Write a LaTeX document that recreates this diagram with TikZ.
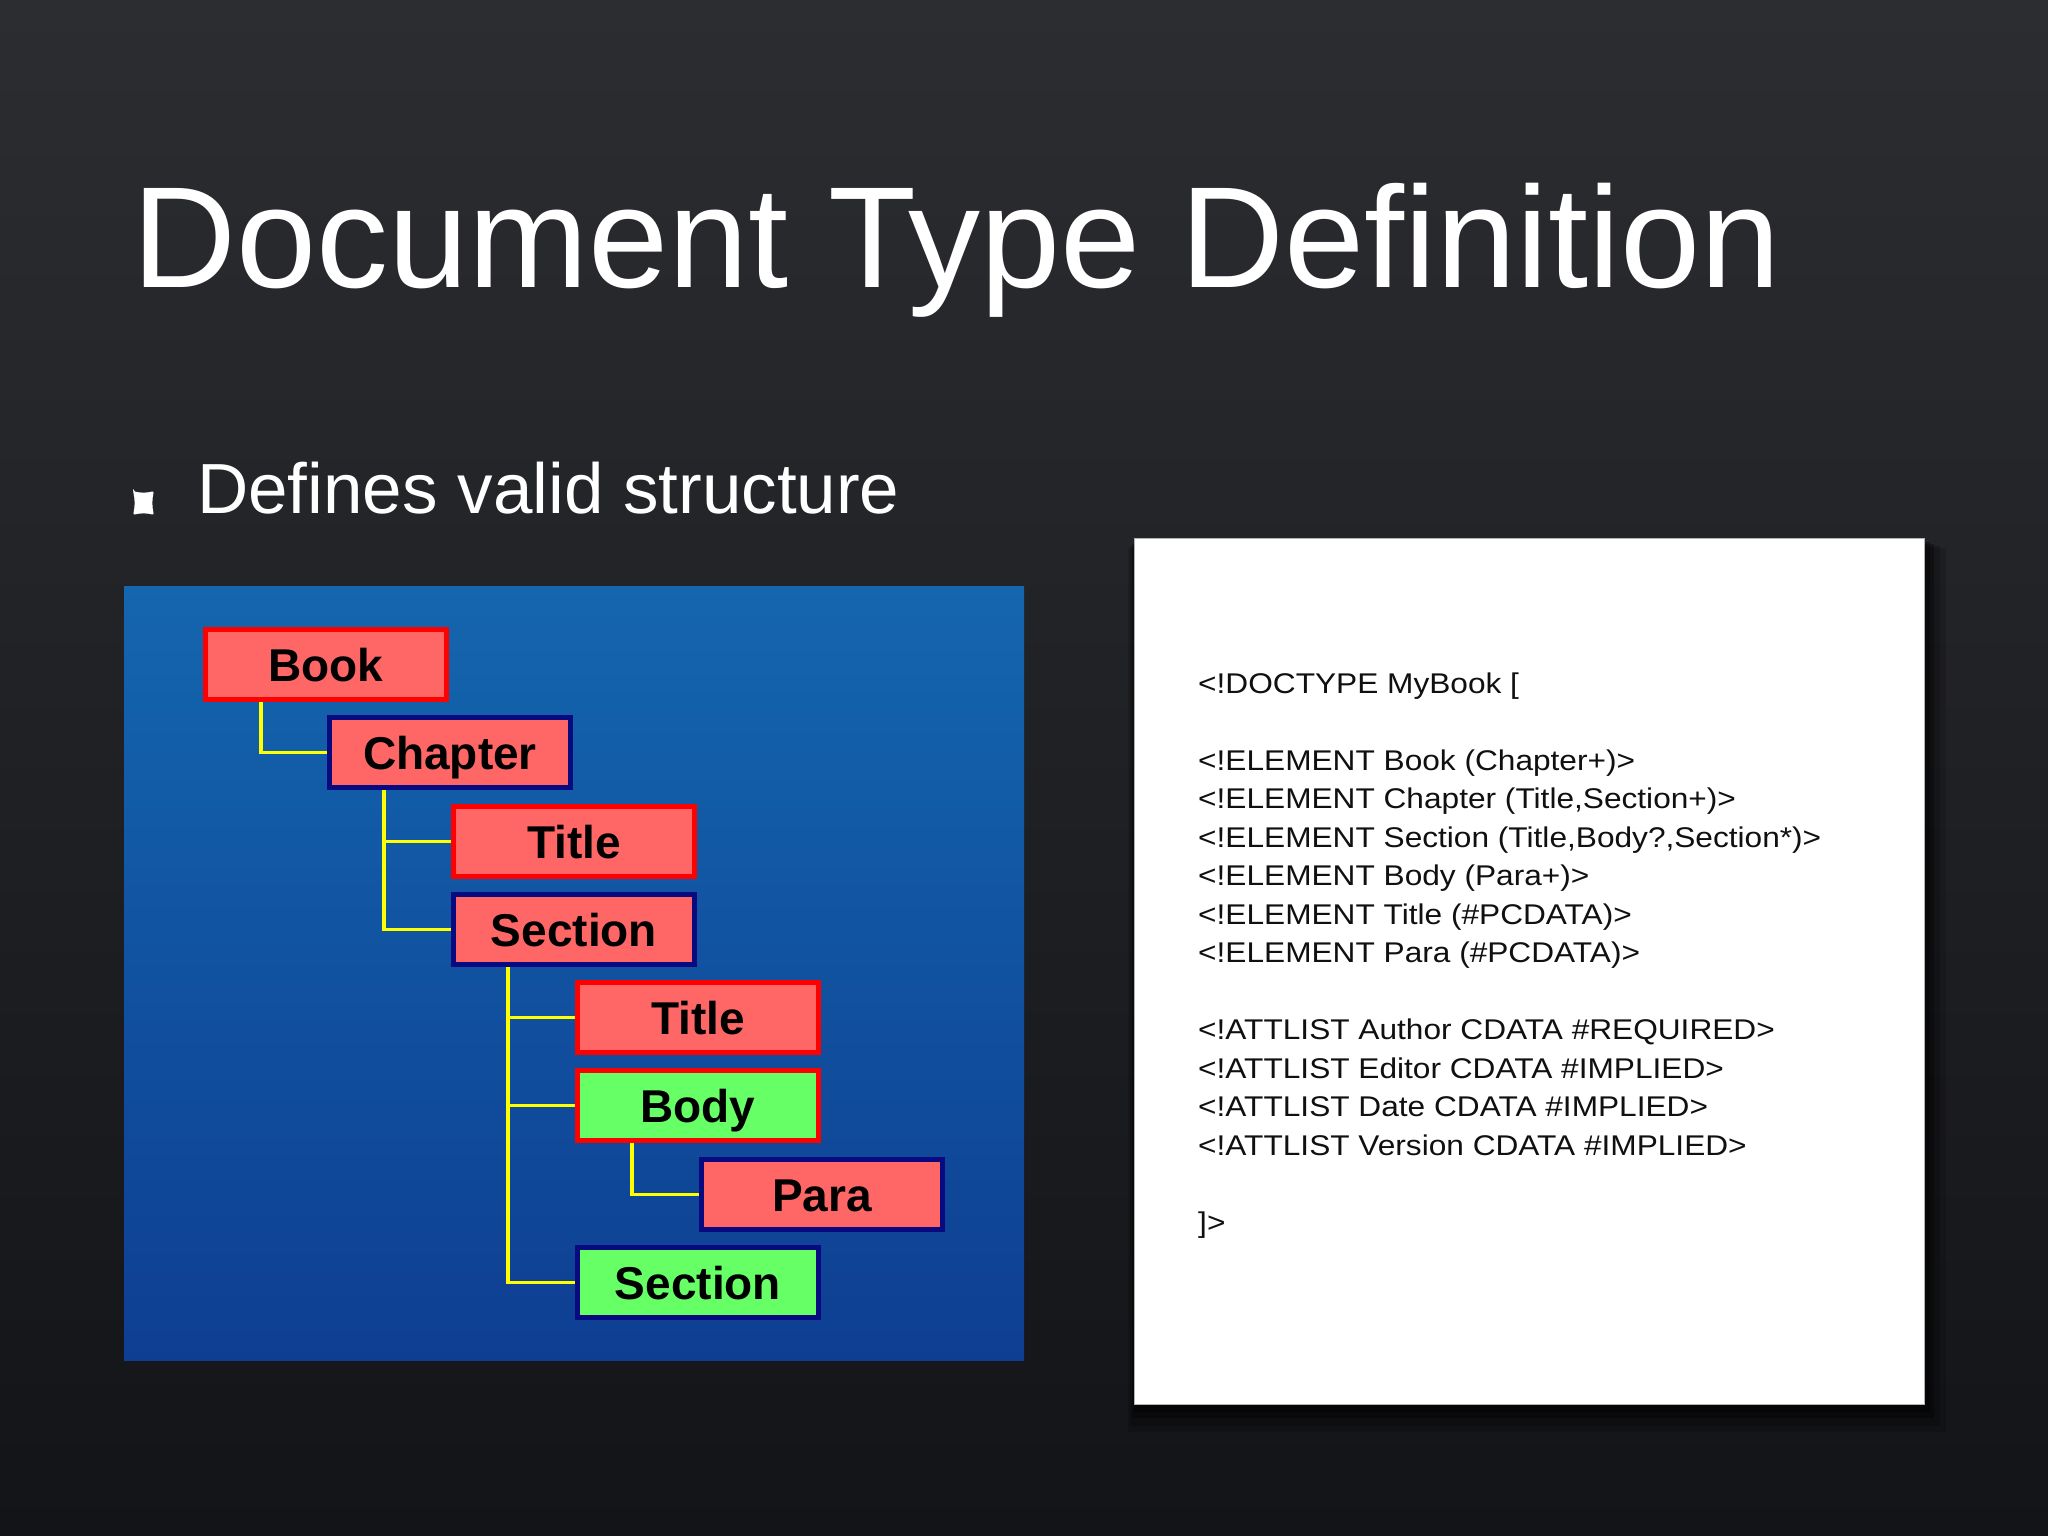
\documentclass[tikz,border=0pt]{standalone}
\usepackage{fontspec}
\setmainfont{Liberation Sans}
\newfontfamily\codefont[FakeStretch=1.11]{Liberation Sans}
\usetikzlibrary{calc}
\definecolor{salmon}{HTML}{FF6666}
\definecolor{lgreen}{HTML}{66FF66}
\definecolor{navyc}{HTML}{0A0A80}
\definecolor{bordred}{HTML}{FF0000}
\definecolor{conny}{HTML}{FFFF00}
\definecolor{bgtop}{HTML}{2C2D31}
\definecolor{bgbot}{HTML}{131417}
\definecolor{paneltop}{HTML}{1466AE}
\definecolor{panelbot}{HTML}{0E3E92}
\definecolor{codec}{HTML}{101010}
\tikzset{
  treebox/.style={draw, line width=5pt, minimum width=241pt, minimum height=70pt,
    inner sep=0pt, text height=33pt, text depth=0pt, anchor=north west,
    font=\fontsize{46}{50}\selectfont\bfseries, text=black},
  rednode/.style={treebox, draw=bordred, fill=salmon},
  navynode/.style={treebox, draw=navyc, fill=salmon},
  redgreen/.style={treebox, draw=bordred, fill=lgreen},
  navygreen/.style={treebox, draw=navyc, fill=lgreen},
  conn/.style={draw=conny, line width=3.5pt},
  codeline/.style={anchor=base west, inner sep=0pt, text=codec,
    font=\codefont\fontsize{28.5}{34}\selectfont}
}
\begin{document}
\begin{tikzpicture}[x=1pt,y=-1pt]
\useasboundingbox (0,0) rectangle (2048,1536);
% background
\shade[top color=bgtop, bottom color=bgbot] (0,0) rectangle (2048,1536);
% title
\node[anchor=base west, inner sep=0pt, text=white, font=\fontsize{144}{150}\selectfont] (title) at (132,287) {Document Type Definition};
% bullet
\fill[white, rounded corners=2pt] (133,491) .. controls (140,493) and (147,493) .. (154,491) .. controls (152,499) and (152,507) .. (154,515) .. controls (147,513) and (140,513) .. (133,515) .. controls (135,507) and (135,499) .. (133,491) -- cycle;
\node[anchor=base west, inner sep=0pt, text=white, font=\fontsize{71}{76}\selectfont] (bullet) at (197,513) {Defines valid structure};
% blue panel
\shade[top color=paneltop, bottom color=panelbot] (124,586) rectangle (1024,1360);
% tree nodes
\node[rednode]   (book)     at (203,627)  {Book};
\node[navynode]  (chapter)  at (327,715)  {Chapter};
\node[rednode]   (title1)   at (451,804)  {Title};
\node[navynode]  (section1) at (451,892)  {Section};
\node[rednode]   (title2)   at (575,980)  {Title};
\node[redgreen]  (body)     at (575,1068) {Body};
\node[navynode]  (para)     at (699,1157) {Para};
\node[navygreen] (section2) at (575,1245) {Section};
% connectors
\draw[conn] ($(book.south west)+(58,0)$) |- (chapter.west);
\draw[conn] ($(chapter.south west)+(57,0)$) |- (title1.west);
\draw[conn] ($(chapter.south west)+(57,0)$) |- (section1.west);
\draw[conn] ($(section1.south west)+(57,0)$) |- (title2.west);
\draw[conn] ($(section1.south west)+(57,0)$) |- (body.west);
\draw[conn] ($(section1.south west)+(57,0)$) |- (section2.west);
\draw[conn] ($(body.south west)+(57,0)$) |- (para.west);
% white box with soft shadow
\fill[black, opacity=0.15] (1128,548) rectangle (1946,1432);
\fill[black, opacity=0.2] (1130,546) rectangle (1940,1426);
\fill[black, opacity=0.3] (1132,544) rectangle (1934,1418);
\fill[black, opacity=0.35] (1134,542) rectangle (1930,1412);
\fill[white, draw=gray!60, line width=1pt] (1134,538) rectangle (1924,1404);
% code lines
\node[codeline] (c1)  at (1198,693)    {<!DOCTYPE MyBook [};
\node[codeline] (c2)  at (1198,770)    {<!ELEMENT Book (Chapter+)>};
\node[codeline] (c3)  at (1198,808.5)  {<!ELEMENT Chapter (Title,Section+)>};
\node[codeline] (c4)  at (1198,847)    {<!ELEMENT Section (Title,Body?,Section*)>};
\node[codeline] (c5)  at (1198,885.5)  {<!ELEMENT Body (Para+)>};
\node[codeline] (c6)  at (1198,924)    {<!ELEMENT Title (\#PCDATA)>};
\node[codeline] (c7)  at (1198,962.5)  {<!ELEMENT Para (\#PCDATA)>};
\node[codeline] (c8)  at (1198,1039.5) {<!ATTLIST Author CDATA \#REQUIRED>};
\node[codeline] (c9)  at (1198,1078)   {<!ATTLIST Editor CDATA \#IMPLIED>};
\node[codeline] (c10) at (1198,1116.5) {<!ATTLIST Date CDATA \#IMPLIED>};
\node[codeline] (c11) at (1198,1155)   {<!ATTLIST Version CDATA \#IMPLIED>};
\node[codeline] (c12) at (1198,1232)   {]>};
\end{tikzpicture}
\end{document}
